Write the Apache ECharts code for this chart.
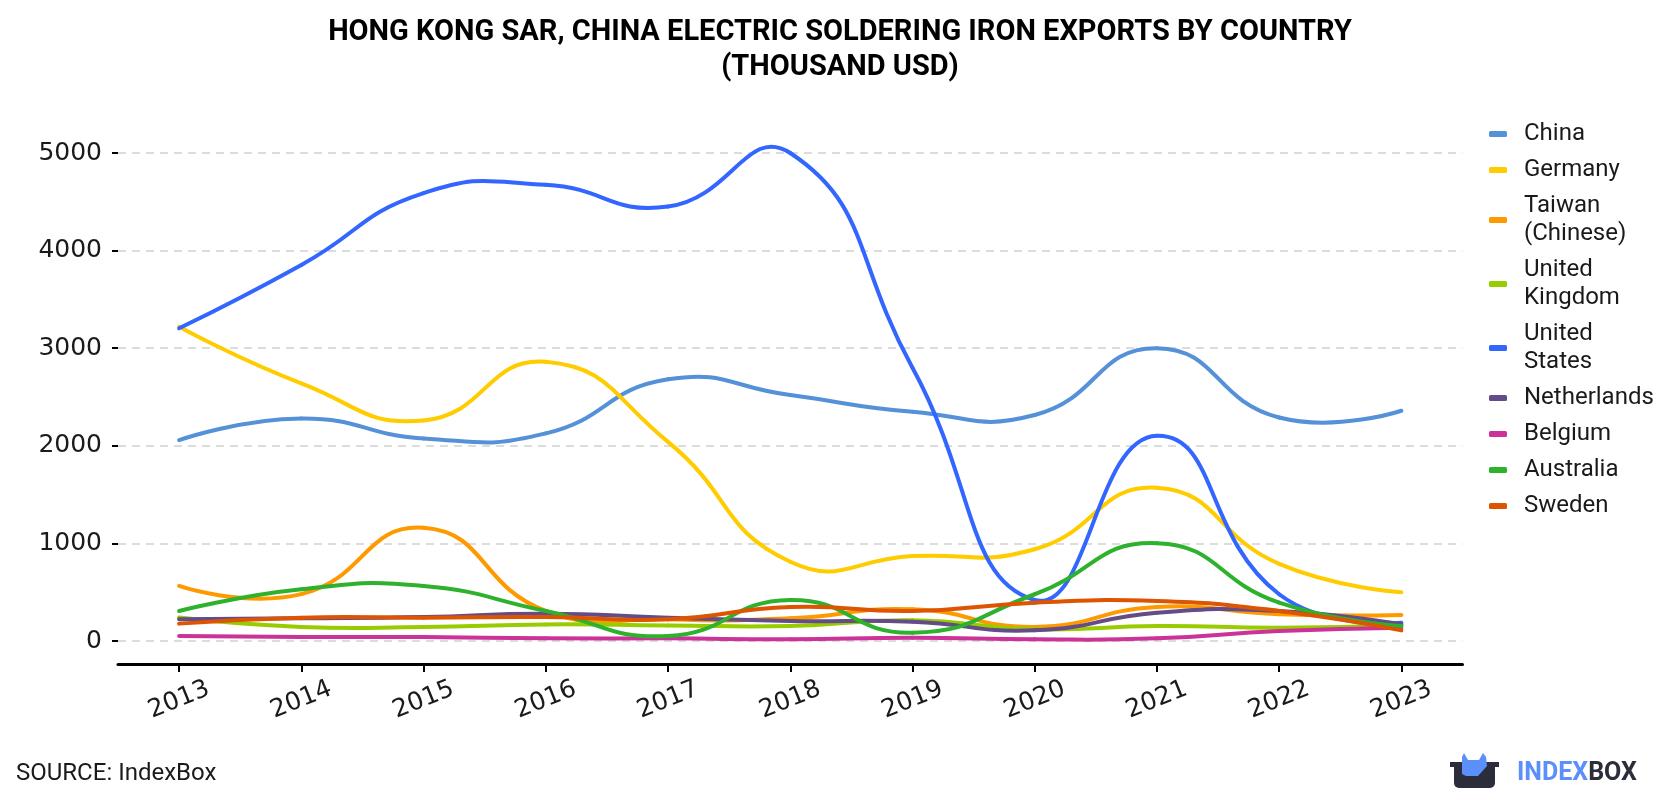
<!DOCTYPE html>
<html>
<head>
<meta charset="utf-8">
<script src="https://cdn.jsdelivr.net/npm/echarts@6/dist/echarts.min.js"></script>
<style>
  html, body { margin: 0; padding: 0; background: #fff; }
  #chart { width: 1680px; height: 800px; }
</style>
</head>
<body>
<div id="chart"></div>
<script>
// years on the x axis
const years = ['2013', '2014', '2015', '2016', '2017', '2018', '2019', '2020', '2021', '2022', '2023'];

// exports, thousand USD
const china       = [2058, 2280, 2076, 2127, 2681, 2520, 2349, 2315, 3000, 2290, 2359];
const germany     = [3220, 2640, 2260, 2860, 2040, 812, 870, 940, 1570, 790, 500];
const taiwan      = [564, 480, 1160, 308, 222, 232, 325, 144, 349, 274, 267];
const uk          = [240, 144, 144, 170, 160, 154, 212, 120, 154, 137, 160];
const us          = [3204, 3853, 4589, 4674, 4451, 5000, 2800, 420, 2103, 479, 188];
const netherlands = [222, 232, 246, 280, 239, 205, 198, 109, 290, 308, 171];
const belgium     = [51, 41, 41, 27, 27, 17, 34, 17, 27, 103, 137];
const australia   = [308, 530, 564, 308, 51, 420, 85, 479, 1002, 393, 154];
const sweden      = [178, 239, 239, 246, 222, 349, 308, 393, 410, 308, 109];

const seriesList = [
  ['China', china, '#5591d8'],
  ['Germany', germany, '#ffcc00'],
  ['Taiwan (Chinese)', taiwan, '#ff9900'],
  ['United Kingdom', uk, '#99cc00'],
  ['United States', us, '#3366ff'],
  ['Netherlands', netherlands, '#634c87'],
  ['Belgium', belgium, '#cc3399'],
  ['Australia', australia, '#2eb22e'],
  ['Sweden', sweden, '#dd5500']
];

const SMOOTH = 0.5;

// bezier segment from point i to i+1; control points follow the older echarts
// smoothing (neighbour vector split by segment length, not clamped)
function splineSegment(values, color) {
  const n = values.length;
  return (params, api) => {
    const i = params.dataIndex;
    if (i >= n - 1) return null;
    const pt = (k) => api.coord([k, values[k]]);
    const dist = (a, b) => Math.hypot(a[0] - b[0], a[1] - b[1]);
    const p1 = pt(i), p2 = pt(i + 1);
    const d12 = dist(p1, p2);
    let c1 = p1, c2 = p2;
    if (i > 0) {
      const p0 = pt(i - 1);
      const r = d12 / (dist(p0, p1) + d12);
      c1 = [p1[0] + (p2[0] - p0[0]) * SMOOTH * r, p1[1] + (p2[1] - p0[1]) * SMOOTH * r];
    }
    if (i + 2 < n) {
      const p3 = pt(i + 2);
      const r = d12 / (d12 + dist(p2, p3));
      c2 = [p2[0] - (p3[0] - p1[0]) * SMOOTH * r, p2[1] - (p3[1] - p1[1]) * SMOOTH * r];
    }
    return {
      type: 'bezierCurve',
      shape: {
        x1: p1[0], y1: p1[1], x2: p2[0], y2: p2[1],
        cpx1: c1[0], cpy1: c1[1], cpx2: c2[0], cpy2: c2[1]
      },
      style: { stroke: color, lineWidth: 4, fill: null, lineCap: 'round' }
    };
  };
}

const chart = echarts.init(document.getElementById('chart'));

chart.setOption({
  animation: false,
  backgroundColor: '#fff',
  title: {
    text: 'HONG KONG SAR, CHINA ELECTRIC SOLDERING IRON EXPORTS BY COUNTRY\n(THOUSAND USD)',
    left: 'center',
    top: 10,
    textStyle: {
      fontFamily: 'Roboto',
      fontWeight: 'bold',
      fontSize: 29,
      lineHeight: 35,
      color: '#000'
    }
  },
  legend: {
    orient: 'vertical',
    left: 1484,
    top: 115,
    itemWidth: 18,
    itemHeight: 6,
    itemGap: 8,
    icon: 'roundRect',
    formatter: (name) => name.replace(' ', '\n'),
    textStyle: {
      fontFamily: 'Roboto',
      fontSize: 24,
      lineHeight: 28,
      color: '#1a1a1a',
      padding: [0, 0, 0, 12]
    }
  },
  grid: {
    left: 118,
    right: 217.5,
    top: 153,
    bottom: 159
  },
  xAxis: {
    type: 'category',
    data: years,
    boundaryGap: true,
    offset: 23,
    axisLine: { onZero: false, lineStyle: { color: '#000', width: 3 } },
    axisTick: { show: true, inside: false, alignWithLabel: true, length: 8, lineStyle: { color: '#000', width: 2 } },
    axisLabel: {
      rotate: 22,
      align: 'center',
      verticalAlign: 'middle',
      margin: 36,
      fontFamily: 'DejaVu Sans',
      fontSize: 25,
      color: '#1a1a1a'
    }
  },
  yAxis: {
    type: 'value',
    min: 0,
    max: 5000,
    interval: 1000,
    axisLine: { show: false },
    axisTick: { show: true, length: 6, lineStyle: { color: '#000', width: 2 } },
    axisLabel: {
      margin: 16,
      formatter: (v) => String(v),
      fontFamily: 'DejaVu Sans',
      fontSize: 25,
      color: '#1a1a1a'
    },
    splitLine: {
      lineStyle: { color: '#dcdcdc', width: 2, type: [8, 6] }
    }
  },
  series: seriesList.map(([name, values, color]) => ({
    name: name,
    type: 'custom',
    data: values.map((v, i) => [i, v]),
    encode: { x: 0, y: 1 },
    clip: false,
    color: color,
    itemStyle: { color: color },
    renderItem: splineSegment(values, color)
  })),
  graphic: [
    {
      type: 'text',
      left: 16,
      top: 762,
      style: {
        text: 'SOURCE: IndexBox',
        font: '24px Roboto',
        fill: '#1a1a1a'
      }
    },
    // logo: box
    {
      type: 'rect',
      shape: { x: 1454, y: 765, width: 41, height: 23, r: [0, 0, 5, 5] },
      style: { fill: '#2b2d3a' }
    },
    {
      type: 'rect',
      shape: { x: 1450, y: 762, width: 49, height: 5 },
      style: { fill: '#2b2d3a' }
    },
    {
      type: 'polygon',
      shape: {
        points: [[1462, 774], [1462, 757], [1464, 753], [1468, 760], [1479, 760],
                 [1483, 753], [1486, 757], [1487, 766], [1478, 776], [1466, 776]]
      },
      style: { fill: '#5b8ff9' }
    },
    {
      type: 'text',
      x: 1517,
      y: 774,
      style: {
        text: '{a|INDEX}{b|BOX}',
        verticalAlign: 'middle',
        rich: {
          a: { font: 'bold 25px Roboto', fill: '#5b8ff9' },
          b: { font: 'bold 25px Roboto', fill: '#2b2d3a' }
        }
      }
    }
  ]
});
</script>
</body>
</html>
